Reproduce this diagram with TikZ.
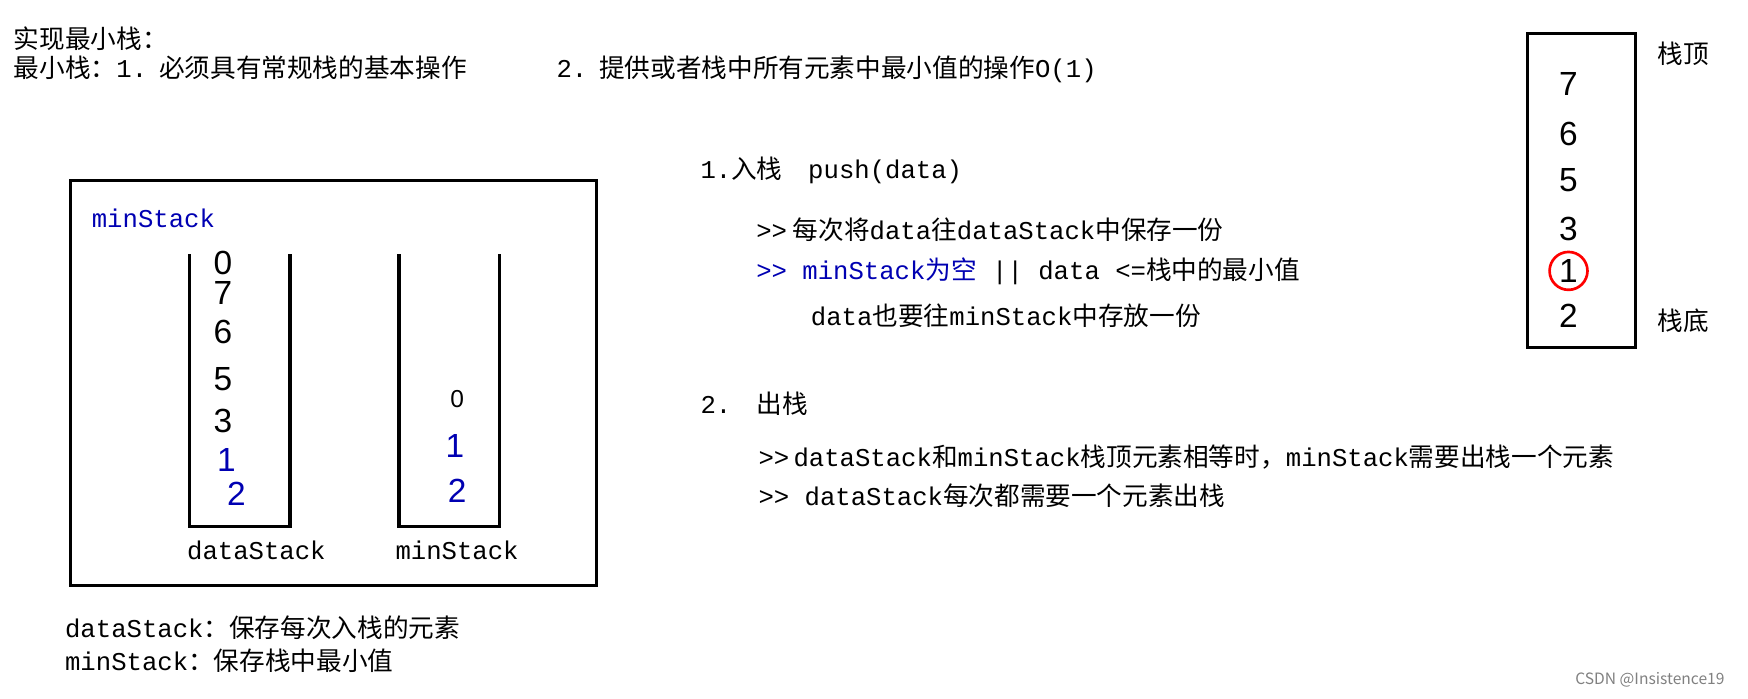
\documentclass[tikz,border=0pt]{standalone}
\usepackage{fontspec}
\setmainfont{Noto Sans CJK SC}
\newfontfamily\hand{Liberation Sans}
\newfontfamily\lmono{Liberation Mono}
\newcommand{\lm}[1]{{\lmono #1}}
\begin{document}
\begin{tikzpicture}[x=0.5pt,y=-0.5pt,
  txt/.style={anchor=west,inner sep=0,font=\fontsize{11.5}{13}\selectfont},
  dig/.style={inner sep=0,font=\hand\fontsize{15}{16}\selectfont},
  bluec/.style={text=blue!70!black},
  line/.style={draw,line width=1.5pt}]
\useasboundingbox (0,0) rectangle (1568,627);
\node[txt] (t1) at (12,35) {实现最小栈：};
\node[txt] (t2) at (12,62) {最小栈：\lm{1.} \,必须具有常规栈的基本操作\hspace{3.5em}\lm{2.} \,提供或者栈中所有元素中最小值的操作\lm{O(1)}};
\draw[line] (63,162) rectangle (535,525);
\node[txt,bluec] (ms) at (82,196) {\lm{minStack}};
\draw[line] (170,228) -- (170,472) -- (260,472) -- (260,228);
\draw[line] (358,228) -- (358,472) -- (448,472) -- (448,228);
\node[dig] (d0) at (200,236) {0};
\node[dig] (d7) at (200,263) {7};
\node[dig] (d6) at (200,298) {6};
\node[dig] (d5) at (200,340) {5};
\node[dig] (d3) at (200,378) {3};
\node[dig,bluec] (d1) at (203,413) {1};
\node[dig,bluec] (d2) at (212,443) {2};
\node[dig,font=\hand\fontsize{11}{12}\selectfont] (m0) at (410,358) {0};
\node[dig,bluec] (m1) at (408,400) {1};
\node[dig,bluec] (m2) at (410,440) {2};
\node[txt,anchor=center] (l1) at (230,494) {\lm{dataStack}};
\node[txt,anchor=center] (l2) at (410,494) {\lm{minStack}};
\node[txt] (b1) at (58,563) {\lm{dataStack}：保存每次入栈的元素};
\node[txt] (b2) at (58,593) {\lm{minStack}：保存栈中最小值};
\node[txt] (r1) at (628,153) {\lm{1.}入栈\hspace{1em}\lm{push(data)}};
\node[txt] (r2) at (678,206) {\lm{{>}{>}} 每次将\lm{data}往\lm{dataStack}中保存一份};
\node[txt] (r3) at (678,243) {\color{blue!70!black}\lm{{>}{>} minStack}为空\color{black}\lm{ || data <=}栈中的最小值};
\node[txt] (r4) at (727,283) {\lm{data}也要往\lm{minStack}中存放一份};
\node[txt] (r5) at (628,362) {\lm{2.}\hspace{1em}出栈};
\node[txt] (r6) at (680,410) {\lm{{>}{>}}\,\lm{dataStack}和\lm{minStack}栈顶元素相等时，\lm{minStack}需要出栈一个元素};
\node[txt] (r7) at (680,445) {\lm{{>}{>} dataStack}每次都需要一个元素出栈};
\draw[line] (1370,30) rectangle (1467,312);
\node[dig] (s7) at (1407,75) {7};
\node[dig] (s6) at (1407,120) {6};
\node[dig] (s5) at (1407,162) {5};
\node[dig] (s3) at (1407,205) {3};
\node[dig] (s1) at (1407,243) {1};
\draw[red,line width=1.2pt] (s1) circle (17);
\node[dig] (s2) at (1407,283) {2};
\node[txt,anchor=center] (top) at (1510,48) {栈顶};
\node[txt,anchor=center] (bot) at (1510,288) {栈底};
\node[txt,anchor=center,text=gray,font=\fontsize{7}{8}\selectfont] (wm) at (1480,610) {CSDN @Insistence19};
\end{tikzpicture}
\end{document}
